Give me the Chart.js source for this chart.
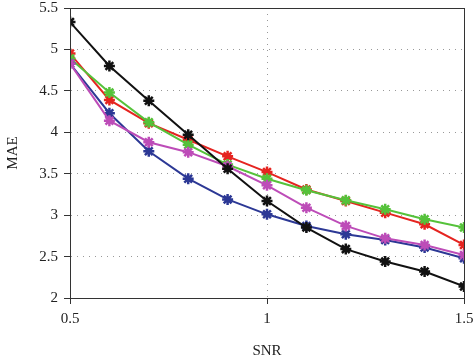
<!DOCTYPE html>
<html>
<head>
<meta charset="utf-8">
<script src="https://cdn.jsdelivr.net/npm/chart.js@4.4.1/dist/chart.umd.min.js"></script>
<style>
  html, body { margin: 0; padding: 0; background: #fff; }
  #wrap { width: 474px; height: 364px; position: relative; }
</style>
</head>
<body>
<div id="wrap"><canvas id="canvas"></canvas></div>
<script>
"use strict";

const snr = [0.5, 0.6, 0.7, 0.8, 0.9, 1.0, 1.1, 1.2, 1.3, 1.4, 1.5];
const blackMae = [5.33, 4.80, 4.38, 3.97, 3.56, 3.17, 2.85, 2.59, 2.44, 2.32, 2.14];
const redMae = [4.95, 4.39, 4.11, 3.91, 3.71, 3.52, 3.31, 3.17, 3.03, 2.89, 2.64];
const greenMae = [4.89, 4.48, 4.12, 3.85, 3.61, 3.44, 3.30, 3.18, 3.07, 2.95, 2.85];
const magentaMae = [4.83, 4.14, 3.88, 3.76, 3.59, 3.36, 3.09, 2.87, 2.72, 2.64, 2.52];
const blueMae = [4.83, 4.23, 3.77, 3.44, 3.19, 3.01, 2.87, 2.77, 2.70, 2.61, 2.48];
const xTicks = [0.5, 1, 1.5];
const yTicks = [2, 2.5, 3, 3.5, 4, 4.5, 5, 5.5];

const serif = "'Liberation Serif', 'DejaVu Serif', serif";

function series(values, color) {
    return {
        data: values.map((v, i) => ({ x: snr[i], y: v })),
        borderColor: color,
        backgroundColor: color,
        borderWidth: 2,
        pointStyle: 'star',
        pointRadius: 5.5,
        pointBorderWidth: 2.5,
        pointBorderColor: color,
        tension: 0
    };
}

// frame round the plot area
const boxPlugin = {
    id: 'box',
    afterDraw(chart) {
        const a = chart.chartArea;
        const ctx = chart.ctx;
        ctx.save();
        ctx.strokeStyle = '#333';
        ctx.lineWidth = 1;
        ctx.strokeRect(a.left + 0.5, a.top + 0.5, a.right - a.left, a.bottom - a.top);
        ctx.restore();
    }
};

const ctx = document.getElementById('canvas').getContext('2d');
window.myLine = new Chart(ctx, {
    type: 'line',
    data: {
        datasets: [
            series(blackMae, '#111111'),
            series(magentaMae, '#bd4cb8'),
            series(blueMae, '#2c3895'),
            series(greenMae, '#55c23a'),
            series(redMae, '#e52420')
        ]
    },
    options: {
        responsive: true,
        maintainAspectRatio: false,
        animation: false,
        layout: { padding: { top: 8, right: 10, left: 0, bottom: 0 } },
        plugins: {
            legend: { display: false },
            title: { display: false },
            tooltip: { enabled: false }
        },
        scales: {
            x: {
                type: 'linear',
                min: 0.5,
                max: 1.5,
                afterBuildTicks: function (scale) {
                    scale.ticks = xTicks.map(v => ({ value: v }));
                },
                afterFit: function (scale) {
                    scale.height = 66;
                    scale.paddingLeft = 0;
                    scale.paddingRight = 0;
                },
                ticks: {
                    color: '#222',
                    font: { family: serif, size: 15 },
                    padding: 6,
                    maxRotation: 0,
                    callback: v => String(v)
                },
                grid: {
                    color: '#999',
                    lineWidth: 1,
                    tickColor: '#333',
                    tickLength: 6
                },
                border: { display: true, color: '#333', width: 1, dash: [1, 5] },
                title: {
                    display: true,
                    text: 'SNR',
                    color: '#222',
                    font: { family: serif, size: 15 },
                    padding: { top: 14, bottom: 4 }
                }
            },
            y: {
                min: 2,
                max: 5.5,
                afterBuildTicks: function (scale) {
                    scale.ticks = yTicks.map(v => ({ value: v }));
                },
                afterFit: function (scale) {
                    scale.width = 70;
                    scale.paddingTop = 0;
                    scale.paddingBottom = 0;
                },
                ticks: {
                    color: '#222',
                    font: { family: serif, size: 15 },
                    padding: 6,
                    callback: v => String(v)
                },
                grid: {
                    color: '#999',
                    lineWidth: 1,
                    tickColor: '#333',
                    tickLength: 6
                },
                border: { display: true, color: '#333', width: 1, dash: [1, 5] },
                title: {
                    display: true,
                    text: 'MAE',
                    color: '#222',
                    font: { family: serif, size: 15 },
                    padding: { top: 4, bottom: 4 }
                }
            }
        }
    },
    plugins: [boxPlugin]
});
</script>
</body>
</html>
